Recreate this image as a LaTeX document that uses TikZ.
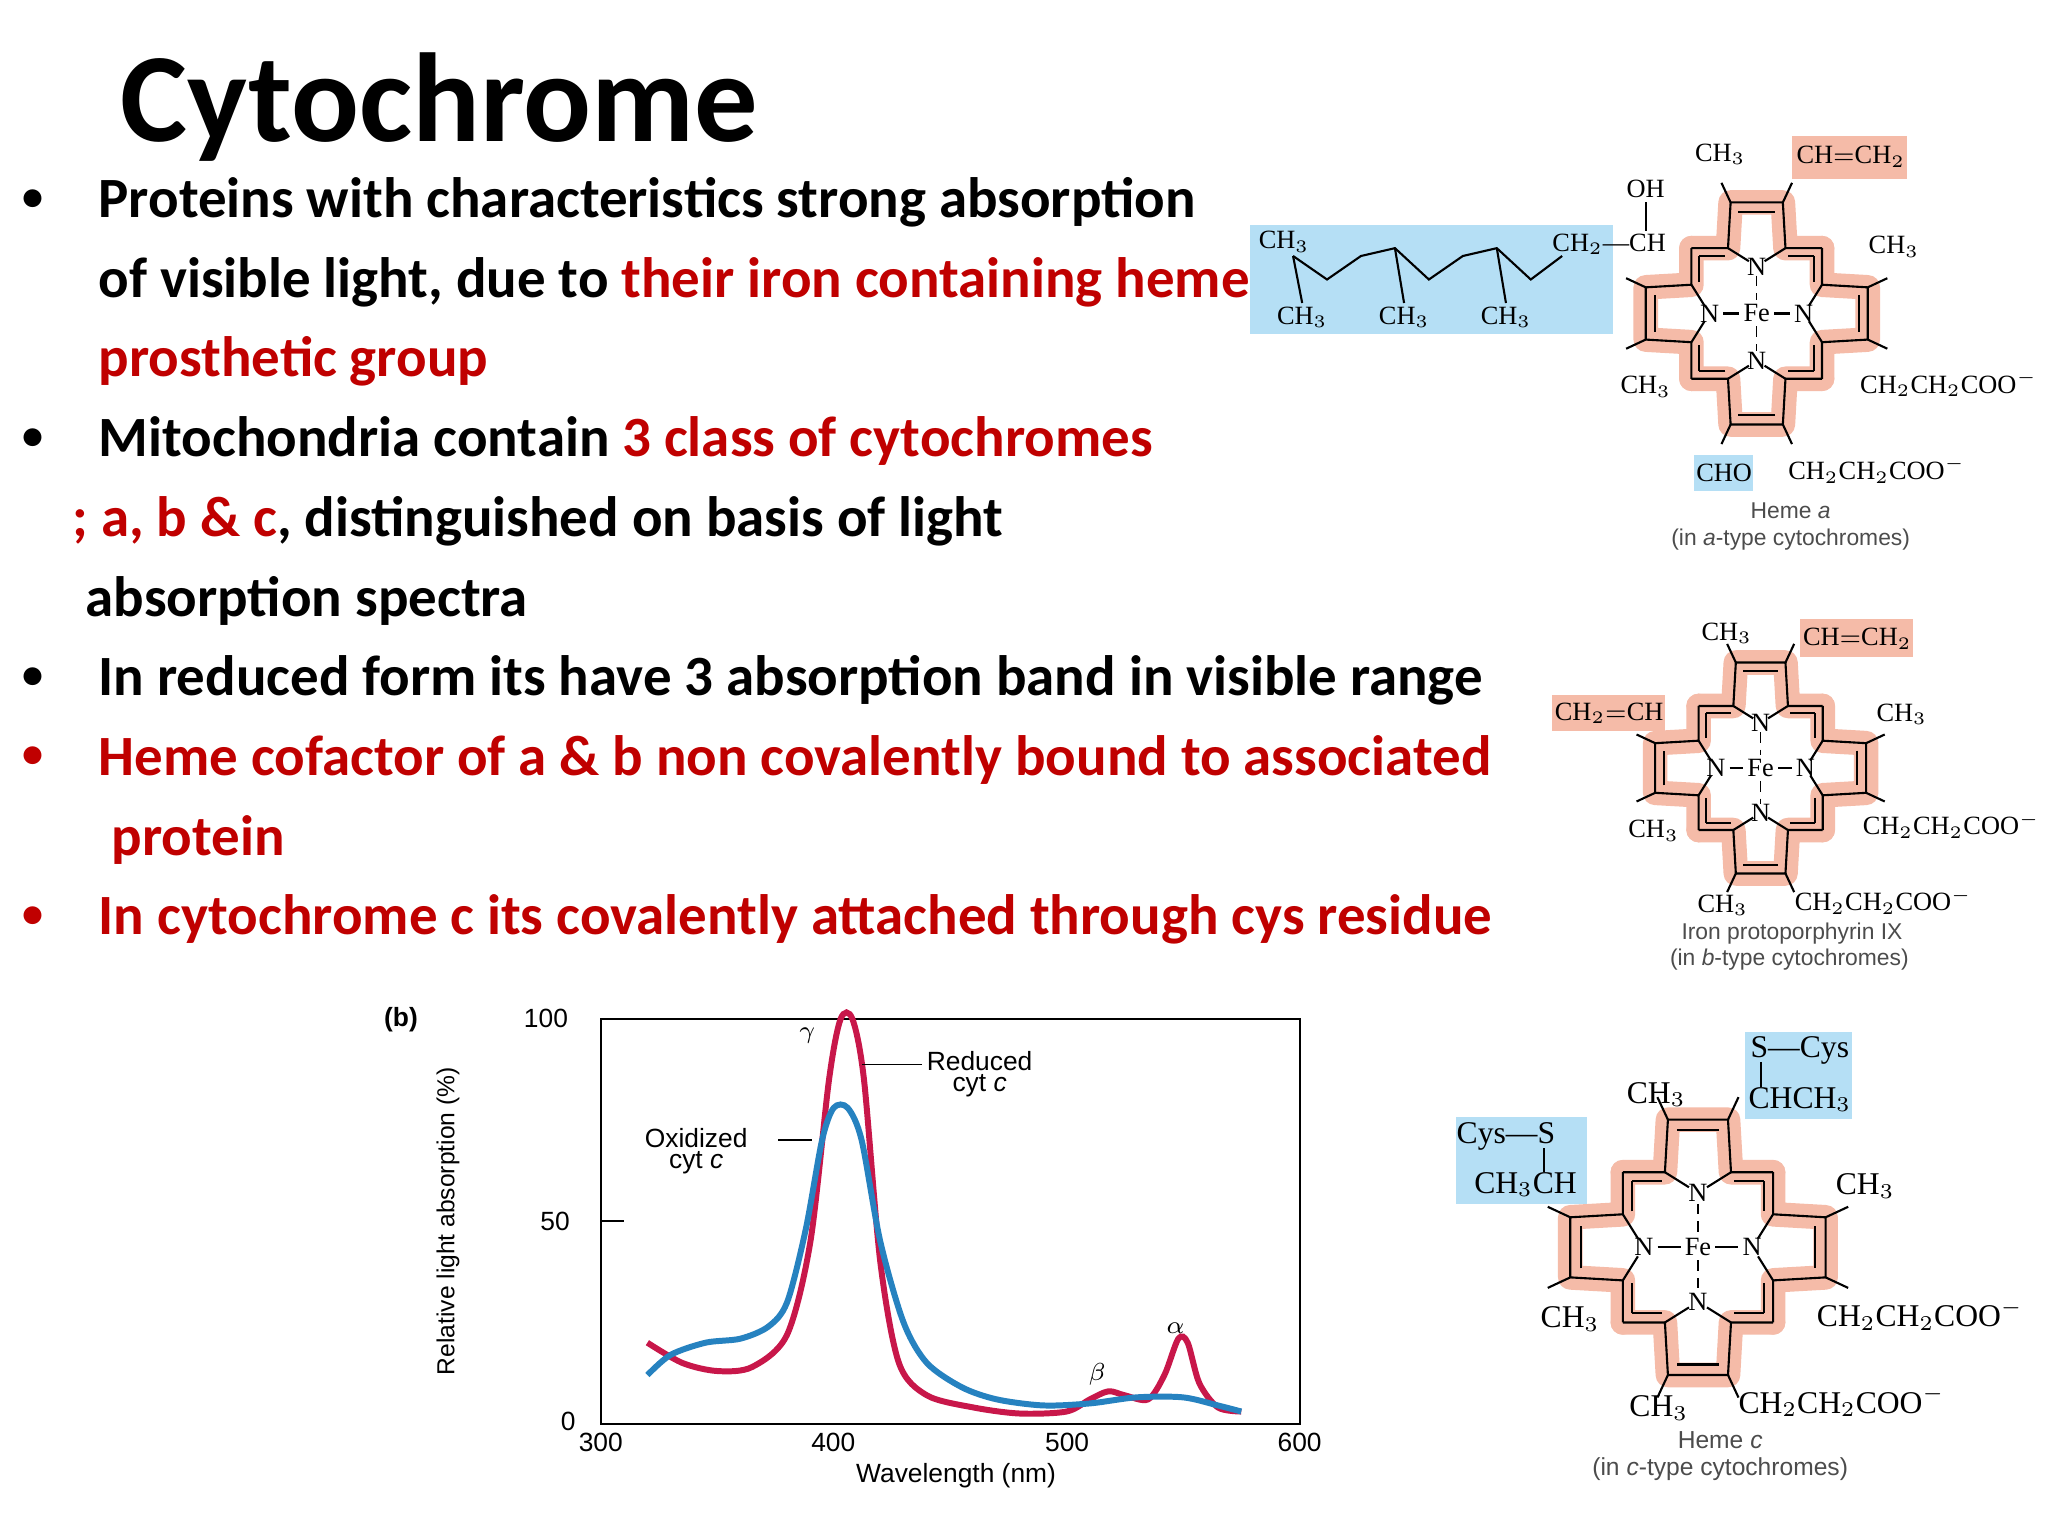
\documentclass[tikz,border=0pt]{standalone}
\usepackage{fontspec}
\setmainfont{Carlito}
\newfontfamily\chem{Liberation Serif}
\newfontfamily\capf{Liberation Sans}
\definecolor{tred}{HTML}{C00000}
\definecolor{cred}{HTML}{C8174A}
\definecolor{cblue}{HTML}{2682C0}
\definecolor{bbox}{HTML}{B5DFF5}
\definecolor{salm}{HTML}{F5BBA8}
\tikzset{
 txt/.style={anchor=west,font=\fontsize{16.2}{18}\bfseries\selectfont,inner sep=0},
 bul/.style={anchor=center,font=\fontsize{12}{14}\bfseries\selectfont,inner sep=0},
 ch/.style={font=\chem\fontsize{7.5}{9}\selectfont,inner sep=1pt},
 cp/.style={font=\capf\fontsize{6.5}{8}\selectfont,text=black!70,inner sep=0},
 ax/.style={font=\capf\fontsize{7.5}{9}\selectfont,inner sep=0},
 hl/.style={salm,line width=7pt,line cap=round,line join=round},
 bd/.style={black,line width=0.6pt},
 blu/.style={fill=bbox,draw=none}
}
\newcommand\porph[3]{%
\begin{scope}[shift={(#1,#2)},scale=#3]
 \foreach \r in {0,90,180,270}{
  \begin{scope}[rotate=\r]
   \draw[hl] (-50,-50)--(-22,-50)--(-20,-85)--(20,-85)--(22,-50)--(50,-50);
  \end{scope}}
 \foreach \r in {0,90,180,270}{
  \begin{scope}[rotate=\r]
   \draw[bd] (-50,-50)--(-22,-50)--(-20,-85)--(20,-85)--(22,-50)--(50,-50);
   \draw[bd] (-22,-50)--(-6,-40) (22,-50)--(6,-40);
   \draw[bd] (-14,-78)--(14,-78) (-44,-44)--(-24,-44) (24,-44)--(44,-44);
   \draw[bd] (-20,-85)--(-27,-100) (20,-85)--(27,-100);
  \end{scope}}
 \node[ch] at (0,-36) {N}; \node[ch] at (0,36) {N};
 \node[ch] (fe) at (0,0) {Fe}; \node[ch] (nl) at (-36,0) {N}; \node[ch] (nr) at (36,0) {N};
 \draw[bd] (nl)--(fe) (fe)--(nr);
 \draw[bd,densely dashed,line width=0.4pt] (0,-29)--(fe) (fe)--(0,29);
\end{scope}}
\def\X#1{-74.9+1.783*#1}
\def\Y#1{1090-3.1*#1}
\begin{document}
\begin{tikzpicture}[x=0.013061cm,y=-0.013061cm]
\useasboundingbox[fill=white] (0,0) rectangle (1568,1176);
\node[anchor=west,inner sep=0,font=\fontsize{36}{40}\bfseries\selectfont] (title) at (92,82) {Cytochrome};
\node[bul] (b1) at (25,153) {•};
\node[txt] (l1) at (75,155) {Proteins with characteristics strong absorption};
\node[txt] (l2) at (75,216) {of visible light, due to \textcolor{tred}{their iron containing heme}};
\node[txt,text=tred] (l3) at (75,277) {prosthetic group};
\node[bul] (b2) at (25,336) {•};
\node[txt] (l4) at (75,338) {Mitochondria contain \textcolor{tred}{3 class of cytochromes}};
\node[txt] (l5) at (55,399) {\textcolor{tred}{; a, b \& c}, distinguished on basis of light};
\node[txt] (l6) at (65,460) {absorption spectra};
\node[bul] (b3) at (25,519) {•};
\node[txt] (l7) at (75,521) {In reduced form its have 3 absorption band in visible range};
\node[bul,text=tred] (b4) at (25,580) {•};
\node[txt,text=tred] (l8) at (75,582) {Heme cofactor of a \& b non covalently bound to associated};
\node[txt,text=tred] (l9) at (85,643) {protein};
\node[bul,text=tred] (b5) at (25,702) {•};
\node[txt,text=tred] (l10) at (75,704) {In cytochrome c its covalently attached through cys residue};
% heme a
\fill[blu] (957,172) rectangle (1235,256);
\fill[blu] (1297,348) rectangle (1342,376);
\fill[salm] (1372,104) rectangle (1460,137);
\draw[bd] (990,196)--(1016,214)--(1042,196)--(1068,190)--(1094,214)--(1120,196)--(1146,190)--(1172,214)--(1196,196);
\draw[bd] (990,196)--(997,232) (1068,190)--(1075,232) (1146,190)--(1153,232);
\node[ch] (a1) at (983,185) {CH$_3$};
\node[ch] (a2) at (997,243) {CH$_3$};
\node[ch] (a3) at (1075,243) {CH$_3$};
\node[ch] (a4) at (1153,243) {CH$_3$};
\node[ch] (a5) at (1232,187) {CH$_2$—CH};
\node[ch] (a6) at (1260,145) {OH};
\draw[bd] (a6)--(1260,177);
\porph{1345}{240}{1}
\node[ch] at (1317,118) {CH$_3$};
\node[ch] at (1417,120) {CH$=$CH$_2$};
\node[ch] at (1450,189) {CH$_3$};
\node[ch] at (1492,294) {CH$_2$CH$_2$COO$^-$};
\node[ch] at (1437,360) {CH$_2$CH$_2$COO$^-$};
\node[ch] at (1260,296) {CH$_3$};
\node[ch] at (1320,362) {CHO};
\node[cp] at (1371,391) {Heme \textit{a}};
\node[cp] at (1371,413) {(in \textit{a}-type cytochromes)};
% heme b
\fill[salm] (1378,474) rectangle (1465,503);
\fill[salm] (1188,532) rectangle (1275,560);
\porph{1348}{588}{0.95}
\node[ch] at (1322,485) {CH$_3$};
\node[ch] at (1422,489) {CH$=$CH$_2$};
\node[ch] at (1232,546) {CH$_2$$=$CH};
\node[ch] at (1456,547) {CH$_3$};
\node[ch] at (1494,632) {CH$_2$CH$_2$COO$^-$};
\node[ch] at (1266,636) {CH$_3$};
\node[ch] at (1319,693) {CH$_3$};
\node[ch] at (1442,690) {CH$_2$CH$_2$COO$^-$};
\node[cp] at (1372,715) {Iron protoporphyrin IX};
\node[cp] at (1370,735) {(in \textit{b}-type cytochromes)};
% heme c
\fill[blu] (1336,790) rectangle (1418,857);
\fill[blu] (1115,855) rectangle (1215,922);
\porph{1300}{955}{1.15}
\node[ch,font=\chem\fontsize{9}{10}\selectfont] (s1) at (1378,804) {S—Cys};
\node[ch,font=\chem\fontsize{9}{10}\selectfont] (s2) at (1378,842) {CHCH$_3$};
\draw[bd] (1348,813)--(1348,832);
\node[ch,font=\chem\fontsize{9}{10}\selectfont] (s3) at (1153,870) {Cys—S};
\node[ch,font=\chem\fontsize{9}{10}\selectfont] (s4) at (1168,907) {CH$_3$CH};
\draw[bd] (1182,879)--(1182,897);
\node[ch,font=\chem\fontsize{9}{10}\selectfont] at (1268,838) {CH$_3$};
\node[ch,font=\chem\fontsize{9}{10}\selectfont] at (1428,908) {CH$_3$};
\node[ch,font=\chem\fontsize{9}{10}\selectfont] at (1470,1007) {CH$_2$CH$_2$COO$^-$};
\node[ch,font=\chem\fontsize{9}{10}\selectfont] at (1202,1010) {CH$_3$};
\node[ch,font=\chem\fontsize{9}{10}\selectfont] at (1270,1078) {CH$_3$};
\node[ch,font=\chem\fontsize{9}{10}\selectfont] at (1410,1073) {CH$_2$CH$_2$COO$^-$};
\node[cp,font=\capf\fontsize{7}{8}\selectfont] at (1317,1103) {Heme \textit{c}};
\node[cp,font=\capf\fontsize{7}{8}\selectfont] at (1317,1125) {(in \textit{c}-type cytochromes)};
% spectrum
\draw[line width=0.6pt] (460,780) rectangle (995,1090);
\draw[line width=0.6pt] (460,935)--(478,935);
\node[ax,font=\capf\bfseries\fontsize{7.5}{9}\selectfont] at (307,781) {(b)};
\node[ax] at (418,780) {100};
\node[ax] at (425,935) {50};
\node[ax] at (435,1088) {0};
\node[ax] at (460,1104) {300};
\node[ax] at (638,1104) {400};
\node[ax] at (817,1104) {500};
\node[ax] at (995,1104) {600};
\node[ax] at (732,1130) {Wavelength (nm)};
\node[ax,rotate=90,font=\capf\fontsize{7}{8}\selectfont] at (343,935) {Relative light absorption (\%)};
\draw[cred,line width=1.7pt] plot[smooth,tension=0.5] coordinates {({\X{320}},{\Y{20}}) ({\X{335}},{\Y{15}}) ({\X{350}},{\Y{13}}) ({\X{365}},{\Y{14}}) ({\X{380}},{\Y{22}}) ({\X{390}},{\Y{45}}) ({\X{398}},{\Y{85}}) ({\X{403}},{\Y{100}}) ({\X{408}},{\Y{100}}) ({\X{413}},{\Y{85}}) ({\X{420}},{\Y{40}}) ({\X{428}},{\Y{15}}) ({\X{440}},{\Y{7}}) ({\X{460}},{\Y{4}}) ({\X{480}},{\Y{2.5}}) ({\X{500}},{\Y{3}}) ({\X{510}},{\Y{6}}) ({\X{518}},{\Y{8}}) ({\X{525}},{\Y{7}}) ({\X{535}},{\Y{6}}) ({\X{542}},{\Y{12}}) ({\X{548}},{\Y{21}}) ({\X{552}},{\Y{20}}) ({\X{557}},{\Y{10}}) ({\X{565}},{\Y{4}}) ({\X{575}},{\Y{3}})};
\draw[cblue,line width=1.7pt] plot[smooth,tension=0.5] coordinates {({\X{320}},{\Y{12}}) ({\X{330}},{\Y{17}}) ({\X{345}},{\Y{20}}) ({\X{360}},{\Y{21}}) ({\X{372}},{\Y{24}}) ({\X{380}},{\Y{30}}) ({\X{388}},{\Y{48}}) ({\X{395}},{\Y{70}}) ({\X{400}},{\Y{78}}) ({\X{406}},{\Y{78}}) ({\X{412}},{\Y{70}}) ({\X{420}},{\Y{45}}) ({\X{430}},{\Y{25}}) ({\X{440}},{\Y{15}}) ({\X{455}},{\Y{9}}) ({\X{470}},{\Y{6}}) ({\X{490}},{\Y{4.5}}) ({\X{510}},{\Y{5}}) ({\X{530}},{\Y{6.5}}) ({\X{550}},{\Y{6.5}}) ({\X{565}},{\Y{4.5}}) ({\X{575}},{\Y{3}})};
\node[ax] (red) at (750,823) {\begin{tabular}{@{}c@{}}Reduced\\[-3pt]cyt \textit{c}\end{tabular}};
\node[ax] (ox) at (533,882) {\begin{tabular}{@{}c@{}}Oxidized\\[-3pt]cyt \textit{c}\end{tabular}};
\draw[line width=0.5pt] (706,815)--(660,815);
\draw[line width=0.5pt] (596,873)--(622,873);
\node[ax] at (618,793) {$\gamma$};
\node[ax] at (840,1052) {$\beta$};
\node[ax] at (900,1017) {$\alpha$};
\end{tikzpicture}
\end{document}
